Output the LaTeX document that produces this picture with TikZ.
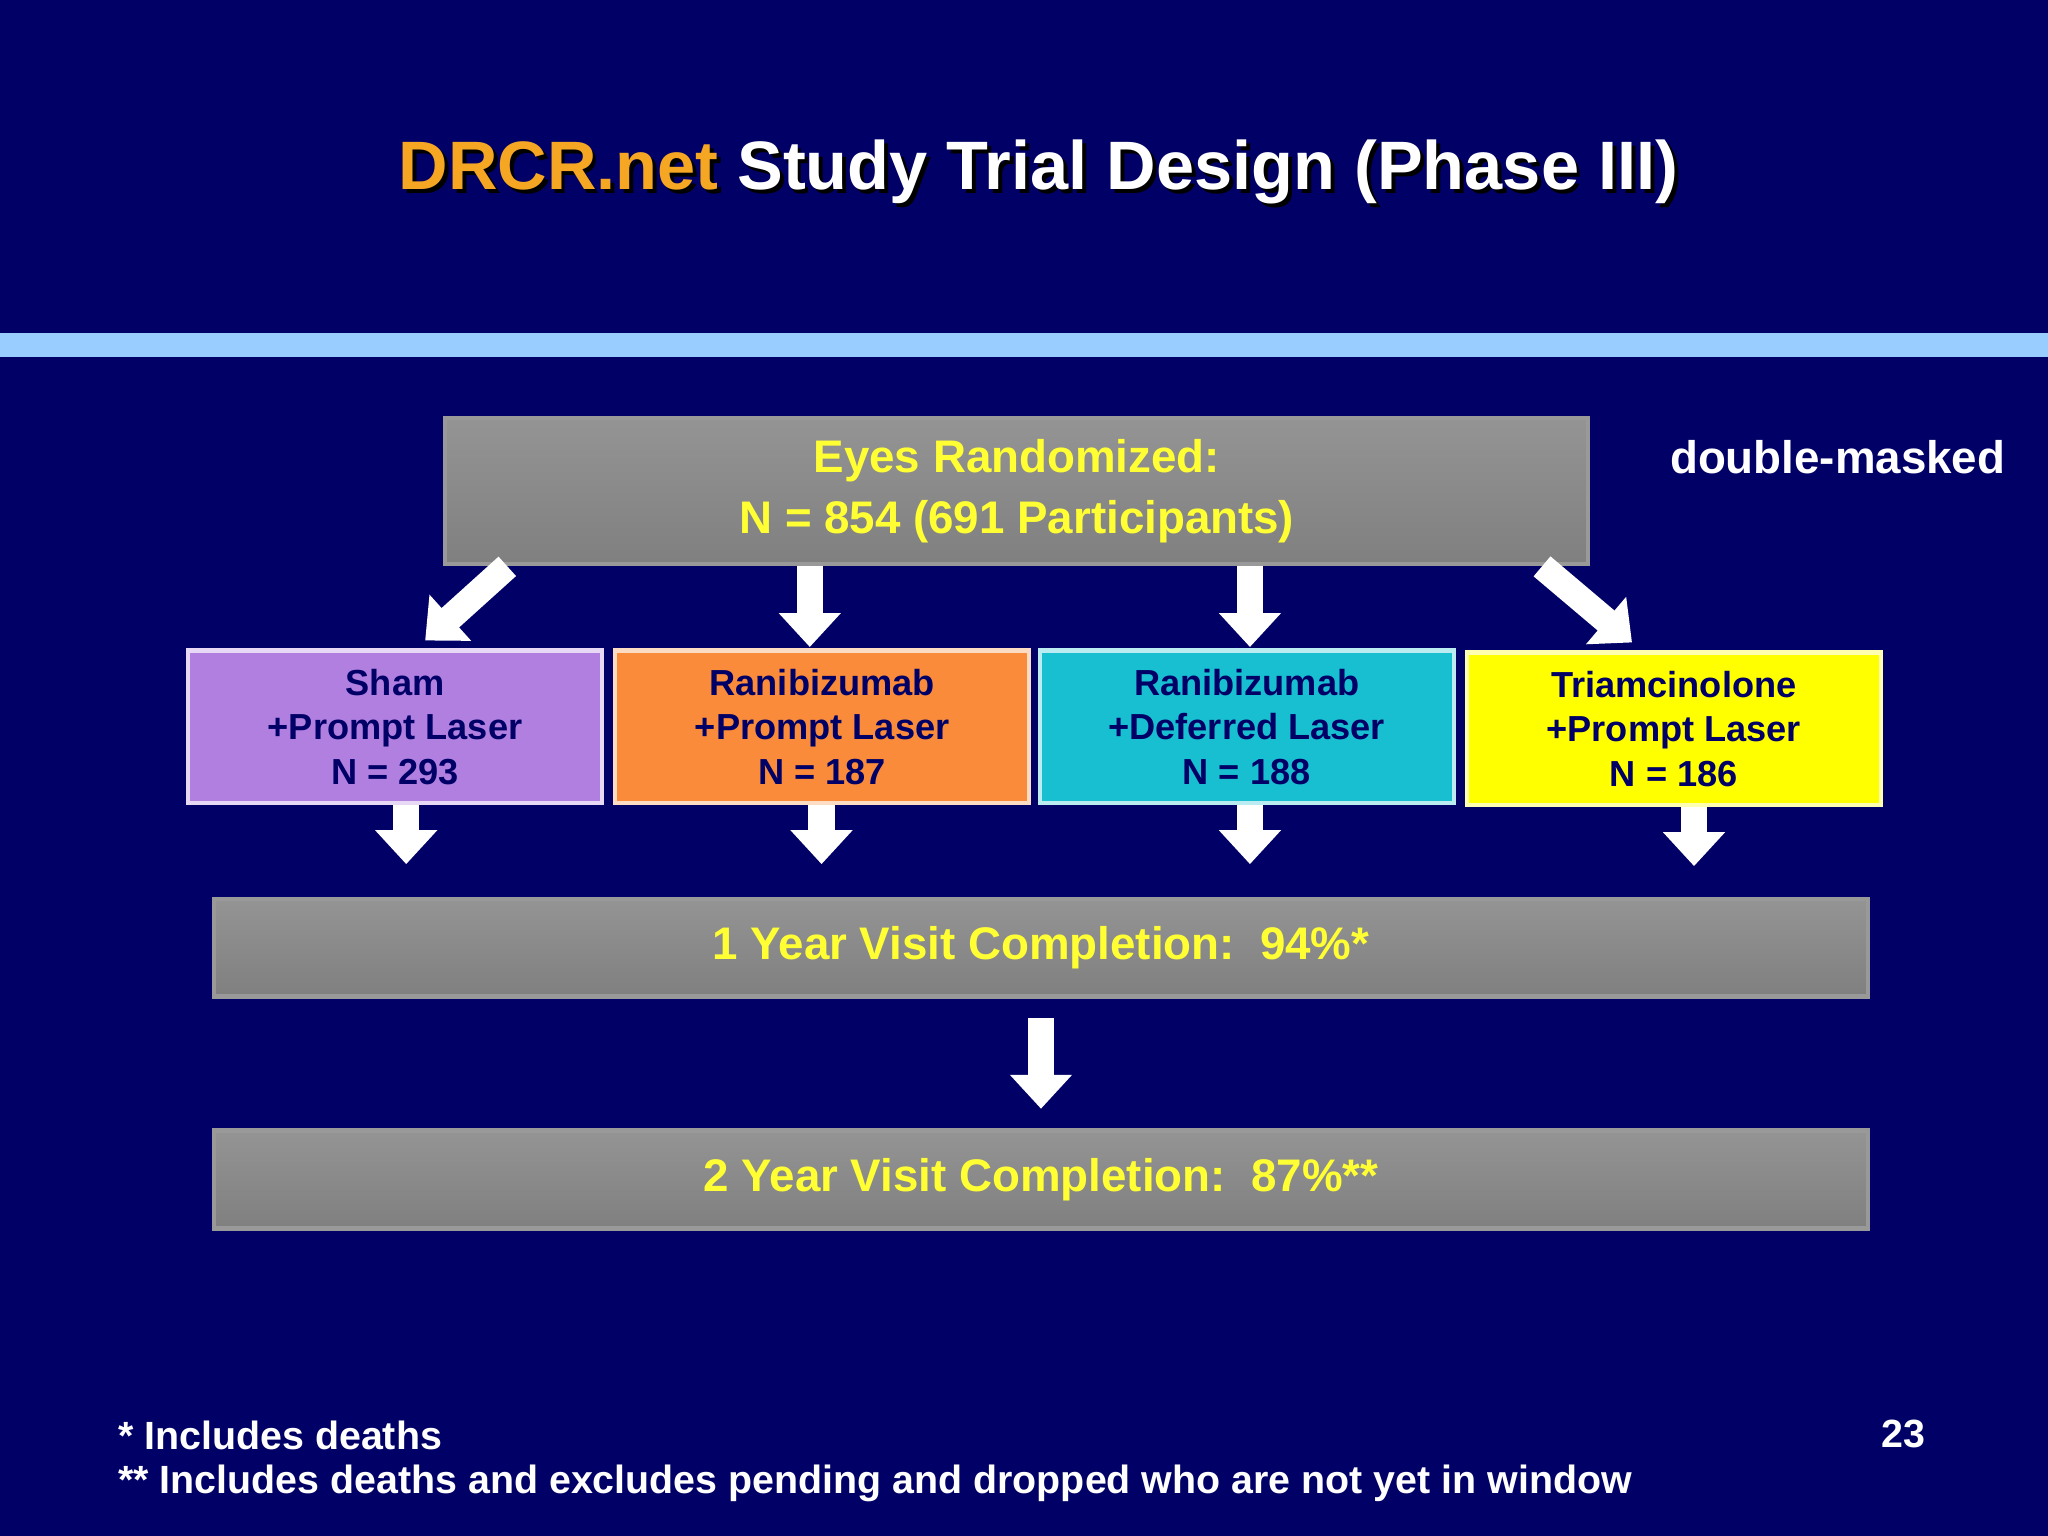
\documentclass[tikz,border=0pt]{standalone}
\usepackage{fontspec}
\setmainfont{Liberation Sans}
\usetikzlibrary{positioning}
\usetikzlibrary{arrows.meta}
\definecolor{navy}{HTML}{000066}
\definecolor{band}{HTML}{99CCFF}
\definecolor{drcr}{HTML}{F5A623}
\definecolor{txtyel}{HTML}{FFFF33}
\definecolor{shamc}{HTML}{B07FE0}
\definecolor{ranpc}{HTML}{F98B3A}
\definecolor{randc}{HTML}{18BFD0}
\definecolor{triac}{HTML}{FFFF00}
\def\pu{0.01306cm}
\tikzset{
  graybox/.style={draw=gray!80,line width=1.2pt,top color=black!42,bottom color=black!50,
    font=\bfseries\fontsize{13}{17.5}\selectfont,text=txtyel,align=center,inner sep=0pt},
  armbox/.style={draw=white!70!#1,line width=1.2pt,fill=#1,text=navy,align=center,
    font=\bfseries\fontsize{10.3}{12.7}\selectfont,minimum width=317*\pu,minimum height=117*\pu,inner sep=0pt},
  blk/.style={white,line width=20*\pu,-{Triangle[width=46*\pu,length=26*\pu]}},
  note/.style={text=white,font=\bfseries\fontsize{11.2}{13}\selectfont,anchor=west,inner sep=0pt}
}
\begin{document}
\begin{tikzpicture}[x=\pu,y=-\pu]
\fill[navy] (0,0) rectangle (1568,1176);
\useasboundingbox (0,0) rectangle (1568,1176);
\fill[band] (0,255) rectangle (1568,273);
% title
\node[font=\bfseries\fontsize{19.5}{24}\selectfont,text=black] at (798,135) {DRCR.net Study Trial Design (Phase III)};
\node (title) [font=\bfseries\fontsize{19.5}{24}\selectfont,text=white] at (795,132) {\textcolor{drcr}{DRCR.net} Study Trial Design (Phase III)};
% top box
\node (rand) [graybox,minimum width=875*\pu,minimum height=112*\pu] at (778.5,376) {Eyes Randomized:\\N = 854 (691 Participants)};
\node (mask) [text=white,font=\bfseries\fontsize{13}{16}\selectfont] at (1407,350) {double-masked};
% arms
\node (sham) [armbox=shamc] at (302.5,556.5) {Sham\\+Prompt Laser\\N = 293};
\node (ranp) [armbox=ranpc] at (629.5,556.5) {Ranibizumab\\+Prompt Laser\\N = 187};
\node (rand2) [armbox=randc] at (954.5,556.5) {Ranibizumab\\+Deferred Laser\\N = 188};
\node (tria) [armbox=triac] at (1281.5,558) {Triamcinolone\\+Prompt Laser\\N = 186};
% completion bars
\node (year1) [graybox,minimum width=1266*\pu,minimum height=75*\pu] at (797,725.5) {1 Year Visit Completion:\ \ 94\%*};
\node (year2) [graybox,minimum width=1266*\pu,minimum height=75*\pu] at (797,903) {2 Year Visit Completion:\ \ 87\%**};
% arrows
\draw[blk] ([xshift=49*\pu]rand.south west) -- ([xshift=23*\pu,yshift=6*\pu]sham.north);
\draw[blk] (rand.south -| 620,0) -- ([yshift=1*\pu]ranp.north -| 620,0);
\draw[blk] (rand.south -| 957,0) -- ([yshift=1*\pu]rand2.north -| 957,0);
\draw[blk] ([xshift=-37*\pu]rand.south east) -- ([xshift=-32*\pu,yshift=6*\pu]tria.north);
\foreach \n/\x in {sham/311,ranp/629,rand2/957,tria/1297}
  \draw[blk] (\n.south -| \x,0) -- ([yshift=-45*\pu]\n.south -| \x,0);
\draw[blk] ([yshift=-15*\pu]year1.south) -- ([yshift=15*\pu]year2.north);
% notes
\node (note1) [note] at (90,1099) {* Includes deaths};
\node (note2) [note] at (90,1136) {** Includes deaths and excludes pending and dropped who are not yet in window};
\node (page) [note] at (1440,1098) {23};
\end{tikzpicture}
\end{document}
